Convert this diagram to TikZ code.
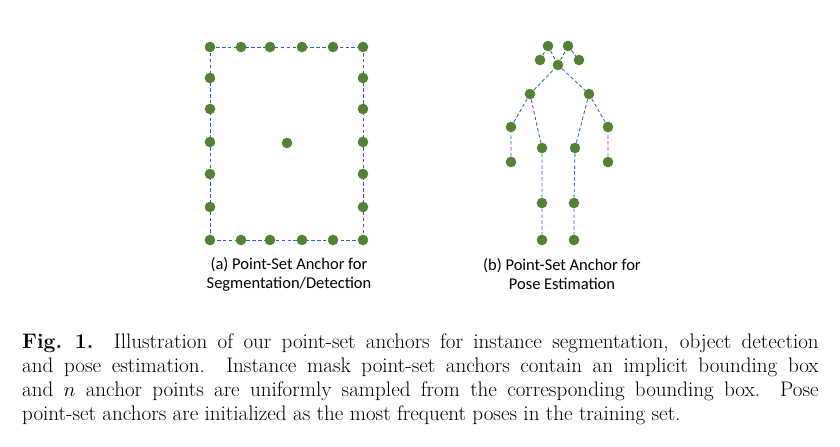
\documentclass[tikz,border=0pt]{standalone}
\usepackage{fontspec}
\newfontfamily\carl{Carlito}
\begin{document}
\begin{tikzpicture}[x=0.85pt,y=-0.85pt,
  pt/.style={circle,fill=dotgreen,inner sep=0pt,minimum size=9pt},
  ln/.style={draw=lineblue,line width=0.7pt,dash pattern=on 3pt off 2pt},
  lab/.style={font=\carl\fontsize{14}{16}\selectfont,align=center},
  captxt/.style={anchor=west,inner sep=0pt,font=\fontsize{17.9}{20}\selectfont}]
\definecolor{dotgreen}{RGB}{84,130,53}
\definecolor{lineblue}{RGB}{55,95,170}
\useasboundingbox (0,0) rectangle (840,446);
% box
\draw[ln] (210,47) rectangle (363,240);
\foreach \x [count=\i] in {210,241,270,302,333,363}{
  \node[pt] (t\i) at (\x,47) {}; \node[pt] (b\i) at (\x,240) {};}
\foreach \y [count=\i] in {78,109,142,174,207}{
  \node[pt] (l\i) at (210,\y) {}; \node[pt] (r\i) at (363,\y) {};}
\node[pt] (c) at (287,143) {};
% skeleton
\node[pt] (eyl) at (548,46) {}; \node[pt] (eyr) at (568,46) {};
\node[pt] (eal) at (540,60) {}; \node[pt] (ear) at (579,60) {};
\node[pt] (nose) at (558,65) {};
\node[pt] (shl) at (530,94) {}; \node[pt] (shr) at (589,94) {};
\node[pt] (ell) at (511,127) {}; \node[pt] (elr) at (608,127) {};
\node[pt] (wrl) at (511,162) {}; \node[pt] (wrr) at (608,162) {};
\node[pt] (hil) at (542,148) {}; \node[pt] (hir) at (575,148) {};
\node[pt] (knl) at (542,203) {}; \node[pt] (knr) at (574,203) {};
\node[pt] (anl) at (542,240) {}; \node[pt] (anr) at (574,240) {};
\draw[ln] (eal)--(eyl)--(nose)--(eyr)--(ear);
\draw[ln] (shl)--(nose)--(shr);
\draw[ln] (wrl)--(ell)--(shl)--(hil)--(knl)--(anl);
\draw[ln] (wrr)--(elr)--(shr)--(hir)--(knr)--(anr);
\node[lab] (la) at (289,274) {(a) Point-Set Anchor for\\Segmentation/Detection};
\node[lab] (lb) at (562,274) {(b) Point-Set Anchor for\\Pose Estimation};
\node[captxt] (c1) at (22,343) {\hbox to 677pt{\textbf{Fig.\ 1.} Illustration of our point-set anchors for instance segmentation, object detection}};
\node[captxt] (c2) at (22,367) {\hbox to 677pt{and pose estimation. Instance mask point-set anchors contain an implicit bounding box}};
\node[captxt] (c3) at (22,391) {\hbox to 677pt{and $n$ anchor points are uniformly sampled from the corresponding bounding box. Pose}};
\node[captxt] (c4) at (22,415) {point-set anchors are initialized as the most frequent poses in the training set.};
\end{tikzpicture}
\end{document}
